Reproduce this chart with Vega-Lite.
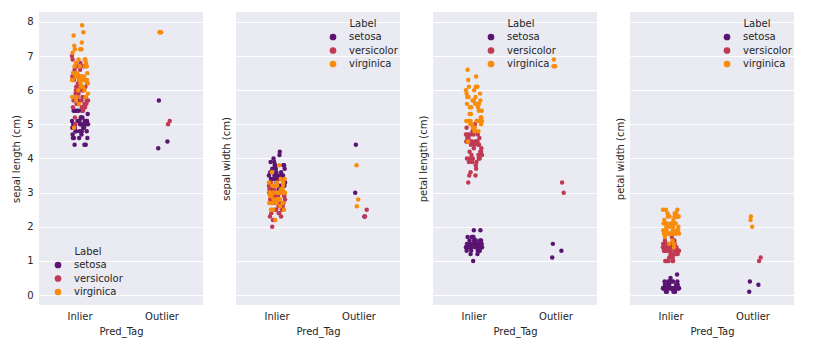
{
"$schema": "https://vega.github.io/schema/vega-lite/v6.json",
"padding": {"left": 11, "top": 12, "right": 5, "bottom": 5},
"data": {"values": [
{"sample":1,"Label":"setosa","Pred_Tag":"Inlier","sepal_length":5.1,"sepal_width":3.5,"petal_length":1.4,"petal_width":0.2},
{"sample":2,"Label":"setosa","Pred_Tag":"Inlier","sepal_length":4.9,"sepal_width":3.0,"petal_length":1.4,"petal_width":0.2},
{"sample":3,"Label":"setosa","Pred_Tag":"Inlier","sepal_length":4.7,"sepal_width":3.2,"petal_length":1.3,"petal_width":0.2},
{"sample":4,"Label":"setosa","Pred_Tag":"Inlier","sepal_length":4.6,"sepal_width":3.1,"petal_length":1.5,"petal_width":0.2},
{"sample":5,"Label":"setosa","Pred_Tag":"Inlier","sepal_length":5.0,"sepal_width":3.6,"petal_length":1.4,"petal_width":0.2},
{"sample":6,"Label":"setosa","Pred_Tag":"Inlier","sepal_length":5.4,"sepal_width":3.9,"petal_length":1.7,"petal_width":0.4},
{"sample":7,"Label":"setosa","Pred_Tag":"Inlier","sepal_length":4.6,"sepal_width":3.4,"petal_length":1.4,"petal_width":0.3},
{"sample":8,"Label":"setosa","Pred_Tag":"Inlier","sepal_length":5.0,"sepal_width":3.4,"petal_length":1.5,"petal_width":0.2},
{"sample":9,"Label":"setosa","Pred_Tag":"Inlier","sepal_length":4.4,"sepal_width":2.9,"petal_length":1.4,"petal_width":0.2},
{"sample":10,"Label":"setosa","Pred_Tag":"Inlier","sepal_length":4.9,"sepal_width":3.1,"petal_length":1.5,"petal_width":0.1},
{"sample":11,"Label":"setosa","Pred_Tag":"Inlier","sepal_length":5.4,"sepal_width":3.7,"petal_length":1.5,"petal_width":0.2},
{"sample":12,"Label":"setosa","Pred_Tag":"Inlier","sepal_length":4.8,"sepal_width":3.4,"petal_length":1.6,"petal_width":0.2},
{"sample":13,"Label":"setosa","Pred_Tag":"Inlier","sepal_length":4.8,"sepal_width":3.0,"petal_length":1.4,"petal_width":0.1},
{"sample":14,"Label":"setosa","Pred_Tag":"Outlier","sepal_length":4.3,"sepal_width":3.0,"petal_length":1.1,"petal_width":0.1},
{"sample":15,"Label":"setosa","Pred_Tag":"Inlier","sepal_length":5.8,"sepal_width":4.0,"petal_length":1.2,"petal_width":0.2},
{"sample":16,"Label":"setosa","Pred_Tag":"Outlier","sepal_length":5.7,"sepal_width":4.4,"petal_length":1.5,"petal_width":0.4},
{"sample":17,"Label":"setosa","Pred_Tag":"Inlier","sepal_length":5.4,"sepal_width":3.9,"petal_length":1.3,"petal_width":0.4},
{"sample":18,"Label":"setosa","Pred_Tag":"Inlier","sepal_length":5.1,"sepal_width":3.5,"petal_length":1.4,"petal_width":0.3},
{"sample":19,"Label":"setosa","Pred_Tag":"Inlier","sepal_length":5.7,"sepal_width":3.8,"petal_length":1.7,"petal_width":0.3},
{"sample":20,"Label":"setosa","Pred_Tag":"Inlier","sepal_length":5.1,"sepal_width":3.8,"petal_length":1.5,"petal_width":0.3},
{"sample":21,"Label":"setosa","Pred_Tag":"Inlier","sepal_length":5.4,"sepal_width":3.4,"petal_length":1.7,"petal_width":0.2},
{"sample":22,"Label":"setosa","Pred_Tag":"Inlier","sepal_length":5.1,"sepal_width":3.7,"petal_length":1.5,"petal_width":0.4},
{"sample":23,"Label":"setosa","Pred_Tag":"Inlier","sepal_length":4.6,"sepal_width":3.6,"petal_length":1.0,"petal_width":0.2},
{"sample":24,"Label":"setosa","Pred_Tag":"Inlier","sepal_length":5.1,"sepal_width":3.3,"petal_length":1.7,"petal_width":0.5},
{"sample":25,"Label":"setosa","Pred_Tag":"Inlier","sepal_length":4.8,"sepal_width":3.4,"petal_length":1.9,"petal_width":0.2},
{"sample":26,"Label":"setosa","Pred_Tag":"Inlier","sepal_length":5.0,"sepal_width":3.0,"petal_length":1.6,"petal_width":0.2},
{"sample":27,"Label":"setosa","Pred_Tag":"Inlier","sepal_length":5.0,"sepal_width":3.4,"petal_length":1.6,"petal_width":0.4},
{"sample":28,"Label":"setosa","Pred_Tag":"Inlier","sepal_length":5.2,"sepal_width":3.5,"petal_length":1.5,"petal_width":0.2},
{"sample":29,"Label":"setosa","Pred_Tag":"Inlier","sepal_length":5.2,"sepal_width":3.4,"petal_length":1.4,"petal_width":0.2},
{"sample":30,"Label":"setosa","Pred_Tag":"Inlier","sepal_length":4.7,"sepal_width":3.2,"petal_length":1.6,"petal_width":0.2},
{"sample":31,"Label":"setosa","Pred_Tag":"Inlier","sepal_length":4.8,"sepal_width":3.1,"petal_length":1.6,"petal_width":0.2},
{"sample":32,"Label":"setosa","Pred_Tag":"Inlier","sepal_length":5.4,"sepal_width":3.4,"petal_length":1.5,"petal_width":0.4},
{"sample":33,"Label":"setosa","Pred_Tag":"Inlier","sepal_length":5.2,"sepal_width":4.1,"petal_length":1.5,"petal_width":0.1},
{"sample":34,"Label":"setosa","Pred_Tag":"Inlier","sepal_length":5.5,"sepal_width":4.2,"petal_length":1.4,"petal_width":0.2},
{"sample":35,"Label":"setosa","Pred_Tag":"Inlier","sepal_length":4.9,"sepal_width":3.1,"petal_length":1.5,"petal_width":0.2},
{"sample":36,"Label":"setosa","Pred_Tag":"Inlier","sepal_length":5.0,"sepal_width":3.2,"petal_length":1.2,"petal_width":0.2},
{"sample":37,"Label":"setosa","Pred_Tag":"Inlier","sepal_length":5.5,"sepal_width":3.5,"petal_length":1.3,"petal_width":0.2},
{"sample":38,"Label":"setosa","Pred_Tag":"Inlier","sepal_length":4.9,"sepal_width":3.6,"petal_length":1.4,"petal_width":0.1},
{"sample":39,"Label":"setosa","Pred_Tag":"Inlier","sepal_length":4.4,"sepal_width":3.0,"petal_length":1.3,"petal_width":0.2},
{"sample":40,"Label":"setosa","Pred_Tag":"Inlier","sepal_length":5.1,"sepal_width":3.4,"petal_length":1.5,"petal_width":0.2},
{"sample":41,"Label":"setosa","Pred_Tag":"Inlier","sepal_length":5.0,"sepal_width":3.5,"petal_length":1.3,"petal_width":0.3},
{"sample":42,"Label":"setosa","Pred_Tag":"Outlier","sepal_length":4.5,"sepal_width":2.3,"petal_length":1.3,"petal_width":0.3},
{"sample":43,"Label":"setosa","Pred_Tag":"Inlier","sepal_length":4.4,"sepal_width":3.2,"petal_length":1.3,"petal_width":0.2},
{"sample":44,"Label":"setosa","Pred_Tag":"Inlier","sepal_length":5.0,"sepal_width":3.5,"petal_length":1.6,"petal_width":0.6},
{"sample":45,"Label":"setosa","Pred_Tag":"Inlier","sepal_length":5.1,"sepal_width":3.8,"petal_length":1.9,"petal_width":0.4},
{"sample":46,"Label":"setosa","Pred_Tag":"Inlier","sepal_length":4.8,"sepal_width":3.0,"petal_length":1.4,"petal_width":0.3},
{"sample":47,"Label":"setosa","Pred_Tag":"Inlier","sepal_length":5.1,"sepal_width":3.8,"petal_length":1.6,"petal_width":0.2},
{"sample":48,"Label":"setosa","Pred_Tag":"Inlier","sepal_length":4.6,"sepal_width":3.2,"petal_length":1.4,"petal_width":0.2},
{"sample":49,"Label":"setosa","Pred_Tag":"Inlier","sepal_length":5.3,"sepal_width":3.7,"petal_length":1.5,"petal_width":0.2},
{"sample":50,"Label":"setosa","Pred_Tag":"Inlier","sepal_length":5.0,"sepal_width":3.3,"petal_length":1.4,"petal_width":0.2},
{"sample":1,"Label":"versicolor","Pred_Tag":"Inlier","sepal_length":7.0,"sepal_width":3.2,"petal_length":4.7,"petal_width":1.4},
{"sample":2,"Label":"versicolor","Pred_Tag":"Inlier","sepal_length":6.4,"sepal_width":3.2,"petal_length":4.5,"petal_width":1.5},
{"sample":3,"Label":"versicolor","Pred_Tag":"Inlier","sepal_length":6.9,"sepal_width":3.1,"petal_length":4.9,"petal_width":1.5},
{"sample":4,"Label":"versicolor","Pred_Tag":"Inlier","sepal_length":5.5,"sepal_width":2.3,"petal_length":4.0,"petal_width":1.3},
{"sample":5,"Label":"versicolor","Pred_Tag":"Inlier","sepal_length":6.5,"sepal_width":2.8,"petal_length":4.6,"petal_width":1.5},
{"sample":6,"Label":"versicolor","Pred_Tag":"Inlier","sepal_length":5.7,"sepal_width":2.8,"petal_length":4.5,"petal_width":1.3},
{"sample":7,"Label":"versicolor","Pred_Tag":"Inlier","sepal_length":6.3,"sepal_width":3.3,"petal_length":4.7,"petal_width":1.6},
{"sample":8,"Label":"versicolor","Pred_Tag":"Inlier","sepal_length":4.9,"sepal_width":2.4,"petal_length":3.3,"petal_width":1.0},
{"sample":9,"Label":"versicolor","Pred_Tag":"Inlier","sepal_length":6.6,"sepal_width":2.9,"petal_length":4.6,"petal_width":1.3},
{"sample":10,"Label":"versicolor","Pred_Tag":"Inlier","sepal_length":5.2,"sepal_width":2.7,"petal_length":3.9,"petal_width":1.4},
{"sample":11,"Label":"versicolor","Pred_Tag":"Inlier","sepal_length":5.0,"sepal_width":2.0,"petal_length":3.5,"petal_width":1.0},
{"sample":12,"Label":"versicolor","Pred_Tag":"Inlier","sepal_length":5.9,"sepal_width":3.0,"petal_length":4.2,"petal_width":1.5},
{"sample":13,"Label":"versicolor","Pred_Tag":"Inlier","sepal_length":6.0,"sepal_width":2.2,"petal_length":4.0,"petal_width":1.0},
{"sample":14,"Label":"versicolor","Pred_Tag":"Inlier","sepal_length":6.1,"sepal_width":2.9,"petal_length":4.7,"petal_width":1.4},
{"sample":15,"Label":"versicolor","Pred_Tag":"Inlier","sepal_length":5.6,"sepal_width":2.9,"petal_length":3.6,"petal_width":1.3},
{"sample":16,"Label":"versicolor","Pred_Tag":"Inlier","sepal_length":6.7,"sepal_width":3.1,"petal_length":4.4,"petal_width":1.4},
{"sample":17,"Label":"versicolor","Pred_Tag":"Inlier","sepal_length":5.6,"sepal_width":3.0,"petal_length":4.5,"petal_width":1.5},
{"sample":18,"Label":"versicolor","Pred_Tag":"Inlier","sepal_length":5.8,"sepal_width":2.7,"petal_length":4.1,"petal_width":1.0},
{"sample":19,"Label":"versicolor","Pred_Tag":"Inlier","sepal_length":6.2,"sepal_width":2.2,"petal_length":4.5,"petal_width":1.5},
{"sample":20,"Label":"versicolor","Pred_Tag":"Inlier","sepal_length":5.6,"sepal_width":2.5,"petal_length":3.9,"petal_width":1.1},
{"sample":21,"Label":"versicolor","Pred_Tag":"Inlier","sepal_length":5.9,"sepal_width":3.2,"petal_length":4.8,"petal_width":1.8},
{"sample":22,"Label":"versicolor","Pred_Tag":"Inlier","sepal_length":6.1,"sepal_width":2.8,"petal_length":4.0,"petal_width":1.3},
{"sample":23,"Label":"versicolor","Pred_Tag":"Inlier","sepal_length":6.3,"sepal_width":2.5,"petal_length":4.9,"petal_width":1.5},
{"sample":24,"Label":"versicolor","Pred_Tag":"Inlier","sepal_length":6.1,"sepal_width":2.8,"petal_length":4.7,"petal_width":1.2},
{"sample":25,"Label":"versicolor","Pred_Tag":"Inlier","sepal_length":6.4,"sepal_width":2.9,"petal_length":4.3,"petal_width":1.3},
{"sample":26,"Label":"versicolor","Pred_Tag":"Inlier","sepal_length":6.6,"sepal_width":3.0,"petal_length":4.4,"petal_width":1.4},
{"sample":27,"Label":"versicolor","Pred_Tag":"Inlier","sepal_length":6.8,"sepal_width":2.8,"petal_length":4.8,"petal_width":1.4},
{"sample":28,"Label":"versicolor","Pred_Tag":"Inlier","sepal_length":6.7,"sepal_width":3.0,"petal_length":5.0,"petal_width":1.7},
{"sample":29,"Label":"versicolor","Pred_Tag":"Inlier","sepal_length":6.0,"sepal_width":2.9,"petal_length":4.5,"petal_width":1.5},
{"sample":30,"Label":"versicolor","Pred_Tag":"Inlier","sepal_length":5.7,"sepal_width":2.6,"petal_length":3.5,"petal_width":1.0},
{"sample":31,"Label":"versicolor","Pred_Tag":"Inlier","sepal_length":5.5,"sepal_width":2.4,"petal_length":3.8,"petal_width":1.1},
{"sample":32,"Label":"versicolor","Pred_Tag":"Inlier","sepal_length":5.5,"sepal_width":2.4,"petal_length":3.7,"petal_width":1.0},
{"sample":33,"Label":"versicolor","Pred_Tag":"Inlier","sepal_length":5.8,"sepal_width":2.7,"petal_length":3.9,"petal_width":1.2},
{"sample":34,"Label":"versicolor","Pred_Tag":"Inlier","sepal_length":6.0,"sepal_width":2.7,"petal_length":5.1,"petal_width":1.6},
{"sample":35,"Label":"versicolor","Pred_Tag":"Inlier","sepal_length":5.4,"sepal_width":3.0,"petal_length":4.5,"petal_width":1.5},
{"sample":36,"Label":"versicolor","Pred_Tag":"Inlier","sepal_length":6.0,"sepal_width":3.4,"petal_length":4.5,"petal_width":1.6},
{"sample":37,"Label":"versicolor","Pred_Tag":"Inlier","sepal_length":6.7,"sepal_width":3.1,"petal_length":4.7,"petal_width":1.5},
{"sample":38,"Label":"versicolor","Pred_Tag":"Inlier","sepal_length":6.3,"sepal_width":2.3,"petal_length":4.4,"petal_width":1.3},
{"sample":39,"Label":"versicolor","Pred_Tag":"Inlier","sepal_length":5.6,"sepal_width":3.0,"petal_length":4.1,"petal_width":1.3},
{"sample":40,"Label":"versicolor","Pred_Tag":"Inlier","sepal_length":5.5,"sepal_width":2.5,"petal_length":4.0,"petal_width":1.3},
{"sample":41,"Label":"versicolor","Pred_Tag":"Inlier","sepal_length":5.5,"sepal_width":2.6,"petal_length":4.4,"petal_width":1.2},
{"sample":42,"Label":"versicolor","Pred_Tag":"Inlier","sepal_length":6.1,"sepal_width":3.0,"petal_length":4.6,"petal_width":1.4},
{"sample":43,"Label":"versicolor","Pred_Tag":"Inlier","sepal_length":5.8,"sepal_width":2.6,"petal_length":4.0,"petal_width":1.2},
{"sample":44,"Label":"versicolor","Pred_Tag":"Outlier","sepal_length":5.0,"sepal_width":2.3,"petal_length":3.3,"petal_width":1.0},
{"sample":45,"Label":"versicolor","Pred_Tag":"Inlier","sepal_length":5.6,"sepal_width":2.7,"petal_length":4.2,"petal_width":1.3},
{"sample":46,"Label":"versicolor","Pred_Tag":"Inlier","sepal_length":5.7,"sepal_width":3.0,"petal_length":4.2,"petal_width":1.2},
{"sample":47,"Label":"versicolor","Pred_Tag":"Inlier","sepal_length":5.7,"sepal_width":2.9,"petal_length":4.2,"petal_width":1.3},
{"sample":48,"Label":"versicolor","Pred_Tag":"Inlier","sepal_length":6.2,"sepal_width":2.9,"petal_length":4.3,"petal_width":1.3},
{"sample":49,"Label":"versicolor","Pred_Tag":"Outlier","sepal_length":5.1,"sepal_width":2.5,"petal_length":3.0,"petal_width":1.1},
{"sample":50,"Label":"versicolor","Pred_Tag":"Inlier","sepal_length":5.7,"sepal_width":2.8,"petal_length":4.1,"petal_width":1.3},
{"sample":1,"Label":"virginica","Pred_Tag":"Inlier","sepal_length":6.3,"sepal_width":3.3,"petal_length":6.0,"petal_width":2.5},
{"sample":2,"Label":"virginica","Pred_Tag":"Inlier","sepal_length":5.8,"sepal_width":2.7,"petal_length":5.1,"petal_width":1.9},
{"sample":3,"Label":"virginica","Pred_Tag":"Inlier","sepal_length":7.1,"sepal_width":3.0,"petal_length":5.9,"petal_width":2.1},
{"sample":4,"Label":"virginica","Pred_Tag":"Inlier","sepal_length":6.3,"sepal_width":2.9,"petal_length":5.6,"petal_width":1.8},
{"sample":5,"Label":"virginica","Pred_Tag":"Inlier","sepal_length":6.5,"sepal_width":3.0,"petal_length":5.8,"petal_width":2.2},
{"sample":6,"Label":"virginica","Pred_Tag":"Inlier","sepal_length":7.6,"sepal_width":3.0,"petal_length":6.6,"petal_width":2.1},
{"sample":7,"Label":"virginica","Pred_Tag":"Inlier","sepal_length":4.9,"sepal_width":2.5,"petal_length":4.5,"petal_width":1.7},
{"sample":8,"Label":"virginica","Pred_Tag":"Inlier","sepal_length":7.3,"sepal_width":2.9,"petal_length":6.3,"petal_width":1.8},
{"sample":9,"Label":"virginica","Pred_Tag":"Inlier","sepal_length":6.7,"sepal_width":2.5,"petal_length":5.8,"petal_width":1.8},
{"sample":10,"Label":"virginica","Pred_Tag":"Inlier","sepal_length":7.2,"sepal_width":3.6,"petal_length":6.1,"petal_width":2.5},
{"sample":11,"Label":"virginica","Pred_Tag":"Inlier","sepal_length":6.5,"sepal_width":3.2,"petal_length":5.1,"petal_width":2.0},
{"sample":12,"Label":"virginica","Pred_Tag":"Inlier","sepal_length":6.4,"sepal_width":2.7,"petal_length":5.3,"petal_width":1.9},
{"sample":13,"Label":"virginica","Pred_Tag":"Inlier","sepal_length":6.8,"sepal_width":3.0,"petal_length":5.5,"petal_width":2.1},
{"sample":14,"Label":"virginica","Pred_Tag":"Inlier","sepal_length":5.7,"sepal_width":2.5,"petal_length":5.0,"petal_width":2.0},
{"sample":15,"Label":"virginica","Pred_Tag":"Inlier","sepal_length":5.8,"sepal_width":2.8,"petal_length":5.1,"petal_width":2.4},
{"sample":16,"Label":"virginica","Pred_Tag":"Inlier","sepal_length":6.4,"sepal_width":3.2,"petal_length":5.3,"petal_width":2.3},
{"sample":17,"Label":"virginica","Pred_Tag":"Inlier","sepal_length":6.5,"sepal_width":3.0,"petal_length":5.5,"petal_width":1.8},
{"sample":18,"Label":"virginica","Pred_Tag":"Outlier","sepal_length":7.7,"sepal_width":3.8,"petal_length":6.7,"petal_width":2.2},
{"sample":19,"Label":"virginica","Pred_Tag":"Outlier","sepal_length":7.7,"sepal_width":2.6,"petal_length":6.9,"petal_width":2.3},
{"sample":20,"Label":"virginica","Pred_Tag":"Inlier","sepal_length":6.0,"sepal_width":2.2,"petal_length":5.0,"petal_width":1.5},
{"sample":21,"Label":"virginica","Pred_Tag":"Inlier","sepal_length":6.9,"sepal_width":3.2,"petal_length":5.7,"petal_width":2.3},
{"sample":22,"Label":"virginica","Pred_Tag":"Inlier","sepal_length":5.6,"sepal_width":2.8,"petal_length":4.9,"petal_width":2.0},
{"sample":23,"Label":"virginica","Pred_Tag":"Outlier","sepal_length":7.7,"sepal_width":2.8,"petal_length":6.7,"petal_width":2.0},
{"sample":24,"Label":"virginica","Pred_Tag":"Inlier","sepal_length":6.3,"sepal_width":2.7,"petal_length":4.9,"petal_width":1.8},
{"sample":25,"Label":"virginica","Pred_Tag":"Inlier","sepal_length":6.7,"sepal_width":3.3,"petal_length":5.7,"petal_width":2.1},
{"sample":26,"Label":"virginica","Pred_Tag":"Inlier","sepal_length":7.2,"sepal_width":3.2,"petal_length":6.0,"petal_width":1.8},
{"sample":27,"Label":"virginica","Pred_Tag":"Inlier","sepal_length":6.2,"sepal_width":2.8,"petal_length":4.8,"petal_width":1.8},
{"sample":28,"Label":"virginica","Pred_Tag":"Inlier","sepal_length":6.1,"sepal_width":3.0,"petal_length":4.9,"petal_width":1.8},
{"sample":29,"Label":"virginica","Pred_Tag":"Inlier","sepal_length":6.4,"sepal_width":2.8,"petal_length":5.6,"petal_width":2.1},
{"sample":30,"Label":"virginica","Pred_Tag":"Inlier","sepal_length":7.2,"sepal_width":3.0,"petal_length":5.8,"petal_width":1.6},
{"sample":31,"Label":"virginica","Pred_Tag":"Inlier","sepal_length":7.4,"sepal_width":2.8,"petal_length":6.1,"petal_width":1.9},
{"sample":32,"Label":"virginica","Pred_Tag":"Inlier","sepal_length":7.9,"sepal_width":3.8,"petal_length":6.4,"petal_width":2.0},
{"sample":33,"Label":"virginica","Pred_Tag":"Inlier","sepal_length":6.4,"sepal_width":2.8,"petal_length":5.6,"petal_width":2.2},
{"sample":34,"Label":"virginica","Pred_Tag":"Inlier","sepal_length":6.3,"sepal_width":2.8,"petal_length":5.1,"petal_width":1.5},
{"sample":35,"Label":"virginica","Pred_Tag":"Inlier","sepal_length":6.1,"sepal_width":2.6,"petal_length":5.6,"petal_width":1.4},
{"sample":36,"Label":"virginica","Pred_Tag":"Inlier","sepal_length":7.7,"sepal_width":3.0,"petal_length":6.1,"petal_width":2.3},
{"sample":37,"Label":"virginica","Pred_Tag":"Inlier","sepal_length":6.3,"sepal_width":3.4,"petal_length":5.6,"petal_width":2.4},
{"sample":38,"Label":"virginica","Pred_Tag":"Inlier","sepal_length":6.4,"sepal_width":3.1,"petal_length":5.5,"petal_width":1.8},
{"sample":39,"Label":"virginica","Pred_Tag":"Inlier","sepal_length":6.0,"sepal_width":3.0,"petal_length":4.8,"petal_width":1.8},
{"sample":40,"Label":"virginica","Pred_Tag":"Inlier","sepal_length":6.9,"sepal_width":3.1,"petal_length":5.4,"petal_width":2.1},
{"sample":41,"Label":"virginica","Pred_Tag":"Inlier","sepal_length":6.7,"sepal_width":3.1,"petal_length":5.6,"petal_width":2.4},
{"sample":42,"Label":"virginica","Pred_Tag":"Inlier","sepal_length":6.9,"sepal_width":3.1,"petal_length":5.1,"petal_width":2.3},
{"sample":43,"Label":"virginica","Pred_Tag":"Inlier","sepal_length":5.8,"sepal_width":2.7,"petal_length":5.1,"petal_width":1.9},
{"sample":44,"Label":"virginica","Pred_Tag":"Inlier","sepal_length":6.8,"sepal_width":3.2,"petal_length":5.9,"petal_width":2.3},
{"sample":45,"Label":"virginica","Pred_Tag":"Inlier","sepal_length":6.7,"sepal_width":3.3,"petal_length":5.7,"petal_width":2.5},
{"sample":46,"Label":"virginica","Pred_Tag":"Inlier","sepal_length":6.7,"sepal_width":3.0,"petal_length":5.2,"petal_width":2.3},
{"sample":47,"Label":"virginica","Pred_Tag":"Inlier","sepal_length":6.3,"sepal_width":2.5,"petal_length":5.0,"petal_width":1.9},
{"sample":48,"Label":"virginica","Pred_Tag":"Inlier","sepal_length":6.5,"sepal_width":3.0,"petal_length":5.2,"petal_width":2.0},
{"sample":49,"Label":"virginica","Pred_Tag":"Inlier","sepal_length":6.2,"sepal_width":3.4,"petal_length":5.4,"petal_width":2.3},
{"sample":50,"Label":"virginica","Pred_Tag":"Inlier","sepal_length":5.9,"sepal_width":3.0,"petal_length":5.1,"petal_width":1.8}
]},
"spacing": 33,
"bounds": "flush",
"resolve": {"scale": {"color": "shared"}, "legend": {"color": "independent"}},
"hconcat": [
{"width": 164, "height": 293,
 "mark": {"type": "circle", "size": 20, "opacity": 1},
 "encoding": {
  "x": {"field": "Pred_Tag", "type": "nominal", "scale": {"type": "band", "domain": ["Inlier", "Outlier"], "paddingInner": 0.8, "paddingOuter": 0.4}, "axis": {"title": "Pred_Tag", "labelAngle": 0, "grid": false}},
  "xOffset": {"field": "sample", "type": "nominal"},
  "y": {"field": "sepal_length", "type": "quantitative", "scale": {"domain": [-0.29, 8.29], "nice": false, "zero": false}, "axis": {"title": "sepal length (cm)", "values": [0,1,2,3,4,5,6,7,8]}},
  "color": {"field": "Label", "type": "nominal", "scale": {"domain": ["setosa", "versicolor", "virginica"], "range": ["#5a1570", "#c03a53", "#f98c0a"]}, "legend": {"orient": "none", "legendX": 14, "legendY": 235}}
 }},
{"width": 164, "height": 293,
 "mark": {"type": "circle", "size": 20, "opacity": 1},
 "encoding": {
  "x": {"field": "Pred_Tag", "type": "nominal", "scale": {"type": "band", "domain": ["Inlier", "Outlier"], "paddingInner": 0.8, "paddingOuter": 0.4}, "axis": {"title": "Pred_Tag", "labelAngle": 0, "grid": false}},
  "xOffset": {"field": "sample", "type": "nominal"},
  "y": {"field": "sepal_width", "type": "quantitative", "scale": {"domain": [-0.29, 8.29], "nice": false, "zero": false}, "axis": {"title": "sepal width (cm)", "values": [0,1,2,3,4,5,6,7,8], "labels": false}},
  "color": {"field": "Label", "type": "nominal", "scale": {"domain": ["setosa", "versicolor", "virginica"], "range": ["#5a1570", "#c03a53", "#f98c0a"]}, "legend": {"orient": "none", "legendX": 92, "legendY": 7}}
 }},
{"width": 164, "height": 293,
 "mark": {"type": "circle", "size": 20, "opacity": 1},
 "encoding": {
  "x": {"field": "Pred_Tag", "type": "nominal", "scale": {"type": "band", "domain": ["Inlier", "Outlier"], "paddingInner": 0.8, "paddingOuter": 0.4}, "axis": {"title": "Pred_Tag", "labelAngle": 0, "grid": false}},
  "xOffset": {"field": "sample", "type": "nominal"},
  "y": {"field": "petal_length", "type": "quantitative", "scale": {"domain": [-0.29, 8.29], "nice": false, "zero": false}, "axis": {"title": "petal length (cm)", "values": [0,1,2,3,4,5,6,7,8], "labels": false}},
  "color": {"field": "Label", "type": "nominal", "scale": {"domain": ["setosa", "versicolor", "virginica"], "range": ["#5a1570", "#c03a53", "#f98c0a"]}, "legend": {"orient": "none", "legendX": 53, "legendY": 7}}
 }},
{"width": 164, "height": 293,
 "mark": {"type": "circle", "size": 20, "opacity": 1},
 "encoding": {
  "x": {"field": "Pred_Tag", "type": "nominal", "scale": {"type": "band", "domain": ["Inlier", "Outlier"], "paddingInner": 0.8, "paddingOuter": 0.4}, "axis": {"title": "Pred_Tag", "labelAngle": 0, "grid": false}},
  "xOffset": {"field": "sample", "type": "nominal"},
  "y": {"field": "petal_width", "type": "quantitative", "scale": {"domain": [-0.29, 8.29], "nice": false, "zero": false}, "axis": {"title": "petal width (cm)", "values": [0,1,2,3,4,5,6,7,8], "labels": false}},
  "color": {"field": "Label", "type": "nominal", "scale": {"domain": ["setosa", "versicolor", "virginica"], "range": ["#5a1570", "#c03a53", "#f98c0a"]}, "legend": {"orient": "none", "legendX": 92, "legendY": 7}}
 }}
],
"config": {
 "font": "DejaVu Sans",
 "view": {"fill": "#eaeaf2", "stroke": null},
 "axis": {"domain": false, "ticks": false, "grid": true, "gridColor": "#ffffff", "gridWidth": 1, "gridOpacity": 1, "labelFontSize": 10, "labelColor": "#262626", "titleFontSize": 10, "titleFontWeight": "normal", "titleColor": "#262626", "labelPadding": 6, "titlePadding": 5},
 "legend": {"titleFontSize": 10, "titleFontWeight": "normal", "titleColor": "#262626", "titleAnchor": "middle", "titlePadding": 3, "labelFontSize": 10, "labelColor": "#262626", "symbolType": "circle", "symbolSize": 45, "symbolStrokeWidth": 0, "symbolOpacity": 1, "labelOffset": 11, "rowPadding": 3.5}
}
}
